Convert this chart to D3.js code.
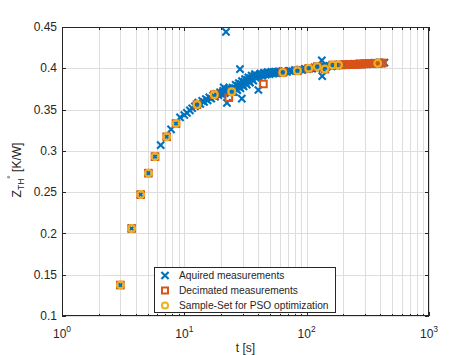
<!DOCTYPE html>
<html><head><meta charset="utf-8">
<script src="https://cdn.jsdelivr.net/npm/d3@7"></script>
<style>
body{margin:0;background:#fff}
text{font-family:"Liberation Sans",Arial,Helvetica,sans-serif;fill:#262626}
</style>
</head><body>
<svg id="c" width="474" height="355"></svg>
<script>
// ---------- data ----------
const acqT = [3.0,3.71,4.4,5.08,5.76,6.41,7.18,7.79,8.55,9.22,10.0,10.5,11.1,11.6,12.2,12.7,
  13.0,13.5,14.0,14.5,15.0,15.5,16.0,16.6,17.2,17.8,18.4,19.0,19.6,
  20.2,20.8,21.4,22.0,22.7,23.4,24.1,24.8,
  25.5,26.3,27.1,27.9,28.7,29.6,30.5,31.4,32.4,33.4,34.4,35.5,36.6,37.8,39.0,
  40.3,41.8,43.3,44.8,46.4,48.0,49.7,51.5,53.3,55.2,57.2,59.2,61.3,63.5,
  66,69,72.5,76,80,84,88,92,96.5,101,106,111,116,121,127,133,139,146,153,160,168,176,185,
  194,203,213,223,234,245,257,270,283,297,311,326,342,358,375,393,412,432,
  20.5,21.1,21.7,22.3,23.0,23.7,24.4,
  25.9,26.7,27.5,28.3,29.1,30.0,30.9,31.9,32.9,33.9,34.9,36.0,37.2,38.4,
  41.0,42.5,44.0,45.6,47.2,50.6,54.2,58.2,62.4,
  21.0,21.9,22.3,28.5,29.5,40.3,133,134];
const acqZ = [0.1375,0.206,0.247,0.273,0.293,0.307,0.317,0.326,0.333,0.3406,0.3434,0.346,0.349,0.3516,0.354,0.356,
  0.3585,0.3570,0.3605,0.3592,0.3628,0.3612,0.3648,0.3633,0.3670,0.3655,0.3692,0.3675,0.3710,
  0.3685,0.3728,0.3698,0.3742,0.3710,0.3752,0.3722,0.3765,
  0.3712,0.3800,0.3735,0.3822,0.3758,0.3845,0.3780,0.3868,0.3802,0.3890,0.3825,0.3912,0.3850,0.3930,0.3890,
  0.3900,0.3935,0.3912,0.3945,0.3922,0.3955,0.3930,0.3958,0.3935,0.3960,0.3940,0.3962,0.3945,0.3965,
  0.3962,0.3956,0.3970,0.3964,0.3978,0.3971,0.3985,0.3979,0.3994,0.3988,0.4003,0.3997,0.4011,0.4005,0.4018,0.4012,0.4025,0.4018,0.4031,0.4024,0.4038,0.4031,0.4044,
  0.4037,0.4048,0.4040,0.4050,0.4042,0.4053,0.4045,0.4056,0.4048,0.4059,0.4051,0.4062,0.4054,0.4065,0.4057,0.4068,0.4060,0.4068,
  0.3705,0.3715,0.3722,0.3728,0.3735,0.3742,0.3748,
  0.3760,0.3745,0.3790,0.3770,0.3812,0.3795,0.3838,0.3818,0.3860,0.3840,0.3880,0.3865,0.3905,0.3885,
  0.3920,0.3925,0.3930,0.3935,0.3940,0.3945,0.3948,0.3952,0.3955,
  0.3768,0.444,0.358,0.399,0.3632,0.3737,0.4095,0.3905];

const sampT = [3.0,3.71,4.4,5.08,5.76,7.18,8.55,12.7,17.6,24.4,63.8,84,104,122,141,163,182,381];
const sampZ = [0.1375,0.206,0.247,0.273,0.293,0.317,0.333,0.356,0.368,0.3716,0.395,0.397,0.400,0.402,0.399,0.404,0.404,0.406];

const decT = sampT.concat([23.1,44.3,198,206,214,222,231,240,250,260,270,281,292,304,316,329,342,356,370,385,400,416]);
const decZ = sampZ.concat([0.3644,0.381,0.4042,0.4043,0.4044,0.4045,0.4046,0.4047,0.4048,0.4050,0.4051,0.4052,0.4053,0.4054,0.4056,0.4057,0.4058,0.4059,0.4061,0.4062,0.4063,0.4064]);

const yTicks = [0.1,0.15,0.2,0.25,0.3,0.35,0.4,0.45];
const yTickLabels = ["0.1","0.15","0.2","0.25","0.3","0.35","0.4","0.45"];
const xMajor = [1,10,100,1000];
const xExp = ["0","1","2","3"];
const legendLabels = ["Aquired measurements","Decimated measurements","Sample-Set for PSO optimization"];

// ---------- chart ----------
const C_BLUE="#0072BD", C_RED="#D95319", C_YEL="#EDB120", C_AX="#262626", C_GRID="#dedede";
const svg = d3.select("#c");
const L=62,R=429,T=27,B=316;
const x = d3.scaleLog().domain([1,1000]).range([L,R]);
const y = d3.scaleLinear().domain([0.1,0.45]).range([B,T]);
const allX = x.ticks();

// grid
const g = svg.append("g").attr("shape-rendering","crispEdges");
g.selectAll(".gx").data(allX).enter().append("line")
  .attr("x1",d=>Math.round(x(d))+0.5).attr("x2",d=>Math.round(x(d))+0.5)
  .attr("y1",T).attr("y2",B).attr("stroke",C_GRID).attr("stroke-width",1);
g.selectAll(".gy").data(yTicks).enter().append("line")
  .attr("y1",d=>Math.round(y(d))+0.5).attr("y2",d=>Math.round(y(d))+0.5)
  .attr("x1",L).attr("x2",R).attr("stroke",C_GRID).attr("stroke-width",1);

// data markers
const pts = (T_,Z_)=>T_.map((t,i)=>[x(t),y(Z_[i])]);
const mk = svg.append("g");
const s=3.6, h=3.3, r=3.4;
mk.selectAll(".a").data(pts(acqT,acqZ)).enter().append("path")
  .attr("d",d=>`M${d[0]-s},${d[1]-s}L${d[0]+s},${d[1]+s}M${d[0]-s},${d[1]+s}L${d[0]+s},${d[1]-s}`)
  .attr("stroke",C_BLUE).attr("stroke-width",2.1).attr("fill","none");
mk.selectAll(".d").data(pts(decT,decZ)).enter().append("rect")
  .attr("x",d=>d[0]-h).attr("y",d=>d[1]-h).attr("width",2*h).attr("height",2*h)
  .attr("stroke",C_RED).attr("stroke-width",2).attr("fill","none");
mk.selectAll(".s").data(pts(sampT,sampZ)).enter().append("circle")
  .attr("cx",d=>d[0]).attr("cy",d=>d[1]).attr("r",r)
  .attr("stroke",C_YEL).attr("stroke-width",2.2).attr("fill","none");

// axes box & ticks
const ax = svg.append("g").attr("shape-rendering","crispEdges").attr("stroke",C_AX).attr("fill","none");
ax.append("rect").attr("x",L+0.5).attr("y",T+0.5).attr("width",R-L-1).attr("height",B-T-1).attr("stroke-width",1);
allX.forEach(d=>{
  const px=Math.round(x(d))+0.5, len = xMajor.includes(d)?4:2.5;
  ax.append("line").attr("x1",px).attr("x2",px).attr("y1",B).attr("y2",B-len);
  ax.append("line").attr("x1",px).attr("x2",px).attr("y1",T).attr("y2",T+len);
});
yTicks.forEach(d=>{
  const py=Math.round(y(d))+0.5;
  ax.append("line").attr("x1",L).attr("x2",L+4).attr("y1",py).attr("y2",py);
  ax.append("line").attr("x1",R).attr("x2",R-4).attr("y1",py).attr("y2",py);
});

// tick labels
svg.selectAll(".yl").data(yTicks).enter().append("text")
  .attr("x",57).attr("y",d=>y(d)).attr("dy","0.35em").attr("text-anchor","end")
  .attr("font-size",12).text((d,i)=>yTickLabels[i]);
xMajor.forEach((d,i)=>{
  const t = svg.append("text").attr("x",x(d)).attr("y",338).attr("text-anchor","middle").attr("font-size",12);
  t.append("tspan").text("10");
  t.append("tspan").attr("dy",-6).attr("font-size",8.5).text(xExp[i]);
});

// axis labels
svg.append("text").attr("x",(L+R)/2).attr("y",352).attr("text-anchor","middle").attr("font-size",12).text("t [s]");
const yl = svg.append("text").attr("transform","translate(21,170) rotate(-90)").attr("text-anchor","middle").attr("font-size",12);
yl.append("tspan").text("Z");
yl.append("tspan").attr("dy",3).attr("font-size",8.5).text("TH");
yl.append("tspan").attr("dy",-10).attr("font-size",8.5).text("°");
yl.append("tspan").attr("dy",7).text(" [K/W]");

// legend
const lg = svg.append("g");
lg.append("rect").attr("x",154.5).attr("y",267.5).attr("width",181).attr("height",44.5)
  .attr("fill","#fff").attr("stroke",C_AX).attr("stroke-width",1).attr("shape-rendering","crispEdges");
const rows=[275.5,290.5,305.5], mx=165;
lg.append("path").attr("d",`M${mx-s},${rows[0]-s}L${mx+s},${rows[0]+s}M${mx-s},${rows[0]+s}L${mx+s},${rows[0]-s}`)
  .attr("stroke",C_BLUE).attr("stroke-width",2.1);
lg.append("rect").attr("x",mx-3).attr("y",rows[1]-3).attr("width",6).attr("height",6)
  .attr("stroke",C_RED).attr("stroke-width",2).attr("fill","none");
lg.append("circle").attr("cx",mx).attr("cy",rows[2]).attr("r",3.1)
  .attr("stroke",C_YEL).attr("stroke-width",2).attr("fill","none");
legendLabels.forEach((t,i)=>{
  lg.append("text").attr("x",179).attr("y",rows[i]).attr("dy","0.35em").attr("font-size",10.2).text(t);
});
</script>
</body></html>
